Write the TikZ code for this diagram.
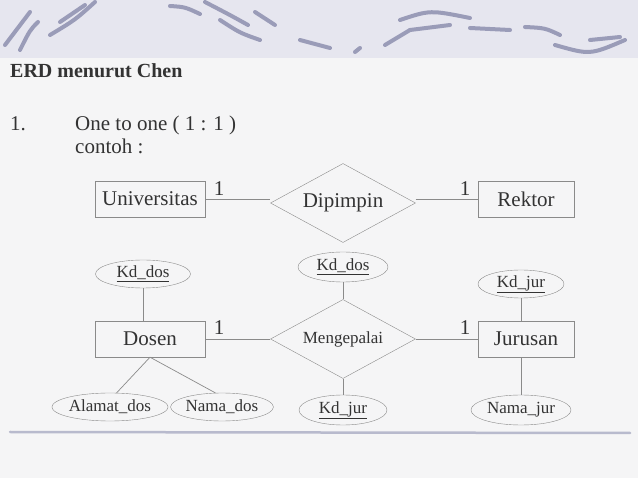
\documentclass[tikz,border=0pt]{standalone}
\usepackage{fontspec}
\setmainfont{Liberation Serif}
\usetikzlibrary{shapes.geometric}
\definecolor{bg}{HTML}{F5F5F6}
\definecolor{band}{HTML}{E6E6EF}
\definecolor{brush}{HTML}{9A9CB8}
\definecolor{ln}{HTML}{8A8A8A}
\definecolor{tx}{HTML}{333333}
\begin{document}
\begin{tikzpicture}[x=1pt,y=-1pt,
  ent/.style={draw=ln,rectangle,minimum width=110pt,minimum height=36pt,inner sep=0pt,font=\fontsize{21}{21}\selectfont,text=tx},
  rel/.style={draw=ln,diamond,aspect=1.85,minimum width=145pt,minimum height=79pt,inner sep=0pt,text=tx},
  attr/.style={draw=ln,ellipse,minimum height=28pt,inner sep=0pt,font=\fontsize{17}{17}\selectfont,text=tx},
  conn/.style={draw=ln,line width=0.7pt},
  card/.style={font=\fontsize{21}{21}\selectfont,text=tx},
  txt/.style={anchor=base west,inner sep=0pt,font=\fontsize{21}{21}\selectfont,text=tx},
  stroke/.style={brush,line width=4pt,line cap=round}]
\useasboundingbox (0,0) rectangle (638,478);
\fill[bg] (0,0) rectangle (638,478);
\fill[band] (0,0) rectangle (638,58);
% decorative brush strokes
\draw[stroke] (5,45) -- (30,12);
\draw[stroke] (20,50) .. controls (30,30) .. (38,22);
\draw[stroke] (50,35) .. controls (75,20) .. (95,2);
\draw[stroke] (60,22) -- (85,5);
\draw[stroke] (170,6) .. controls (185,7) .. (200,14);
\draw[stroke] (205,2) .. controls (230,15) .. (248,25);
\draw[stroke] (220,20) .. controls (240,33) .. (260,40);
\draw[stroke] (255,12) -- (275,25);
\draw[stroke] (300,40) -- (330,48);
\draw[stroke] (355,52) -- (360,48);
\draw[stroke] (385,45) -- (410,30);
\draw[stroke] (400,20) .. controls (430,10) .. (470,18);
\draw[stroke] (410,30) -- (450,25);
\draw[stroke] (470,28) -- (510,30);
\draw[stroke] (525,27) .. controls (545,28) .. (560,35);
\draw[stroke] (555,45) .. controls (590,55) .. (625,40);
\draw[stroke] (590,40) -- (620,37);
\draw[brush!70,line width=2.5pt,line cap=round] (10,432) -- (630,433);
% texts
\node[txt,font=\fontsize{20}{20}\selectfont\bfseries] (title) at (10,78) {ERD menurut Chen};
\node[txt] (num) at (10,131) {1.};
\node[txt] (l1) at (75,131) {One to one ( 1 : 1 )};
\node[txt] (l2) at (75,154) {contoh :};
% row 1
\node[ent] (univ) at (150,199) {Universitas};
\node[rel,font=\fontsize{21}{21}\selectfont] (dip) at (343,203) {Dipimpin};
\node[ent,minimum width=96pt] (rek) at (526,199) {Rektor};
\draw[conn] (univ.east) -- (univ.east -| dip.west);
\draw[conn] (rek.west -| dip.east) -- (rek.west);
\node[card] (c1) at (219,189) {1};
\node[card] (c2) at (465,189) {1};
% row 2
\node[ent] (dos) at (150,339) {Dosen};
\node[rel,font=\fontsize{17}{17}\selectfont] (men) at (343,339) {Mengepalai};
\node[ent,minimum width=96pt] (jur) at (526,339) {Jurusan};
\draw[conn] (dos) -- (men);
\draw[conn] (men) -- (jur);
\node[card] (c3) at (219,328) {1};
\node[card] (c4) at (465,328) {1};
% attributes
\node[attr,minimum width=95pt] (kd1) at (143,274) {\underline{Kd\_dos}};
\node[attr,minimum width=90pt,minimum height=30pt] (kd2) at (343,267) {\underline{Kd\_dos}};
\node[attr,minimum width=86pt] (kj1) at (521,284) {\underline{Kd\_jur}};
\node[attr,minimum width=96pt] (al) at (110,407) {Alamat\_dos};
\node[attr,minimum width=92pt] (nd) at (222,407) {Nama\_dos};
\node[attr,minimum width=88pt,minimum height=30pt] (kj2) at (343,410) {\underline{Kd\_jur}};
\node[attr,minimum width=100pt,minimum height=30pt] (nj) at (521,410) {Nama\_jur};
\draw[conn] (kd1) -- (kd1 |- dos.north);
\draw[conn] (kd2) -- (men.north);
\draw[conn] (men.south) -- (kj2);
\draw[conn] (kj1) -- (kj1 |- jur.north);
\draw[conn] (kj1 |- jur.south) -- (nj);
\draw[conn] (dos.south) -- (al.65);
\draw[conn] (dos.south) -- (nd.115);
\end{tikzpicture}
\end{document}
